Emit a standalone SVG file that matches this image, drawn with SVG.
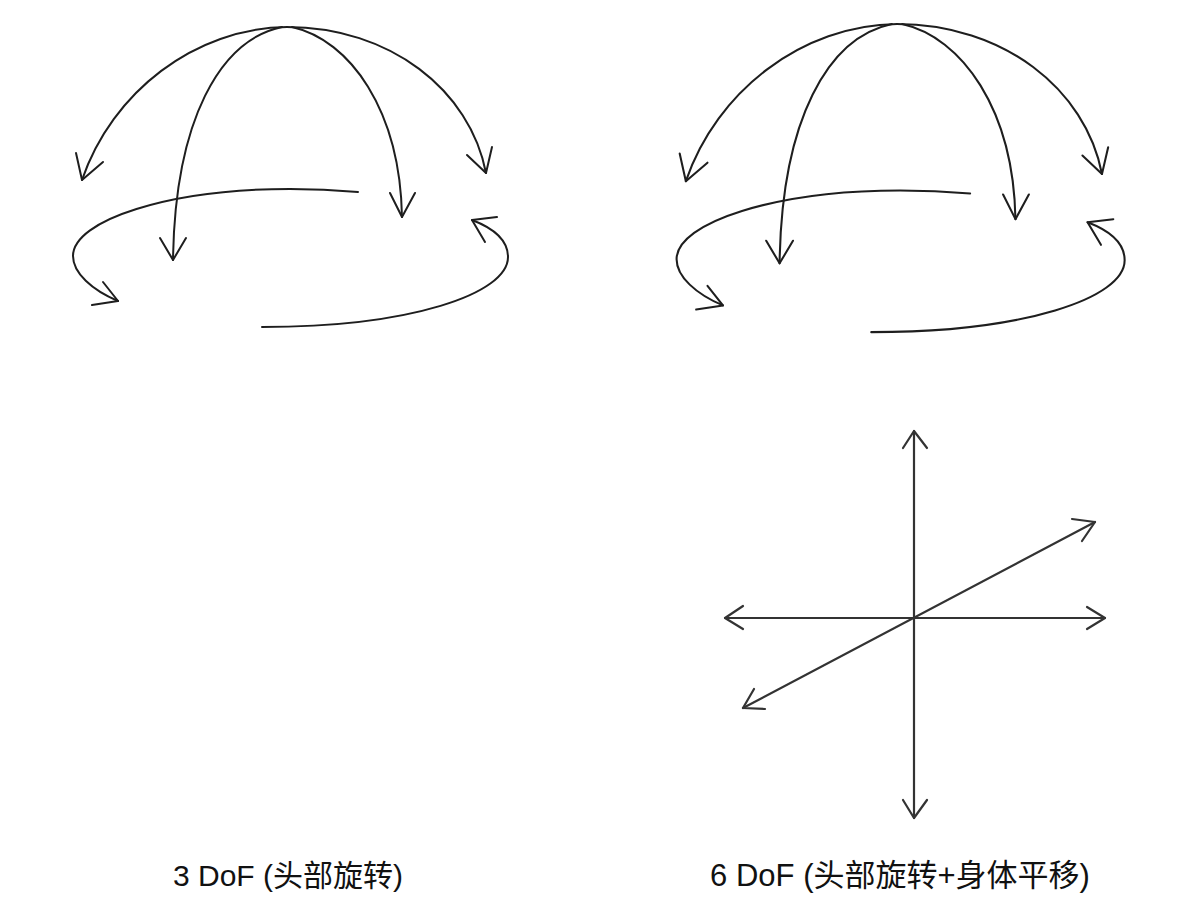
<svg xmlns="http://www.w3.org/2000/svg" width="1192" height="912" viewBox="0 0 1192 912">
<style>
.c{fill:none;stroke:#1e1e1e;stroke-width:2;stroke-linecap:round;stroke-linejoin:round}
.a{fill:none;stroke:#333;stroke-width:2.2;stroke-linecap:round;stroke-linejoin:round}
.t{font-family:"Liberation Sans","Noto Sans CJK SC",sans-serif;font-size:30px;fill:#111;text-anchor:middle}
</style>
<defs>
<g id="rot">
<path class="c" d="M287,27 C195,28 112,92 82,180"/>
<polyline class="c" points="76,153 82,180 103,162"/>
<path class="c" d="M282,27 C220,40 175,120 173,260"/>
<polyline class="c" points="160,238 173,260 186,238"/>
<path class="c" d="M292,27 C350,40 400,110 402,217"/>
<polyline class="c" points="390,193 402,217 415,193"/>
<path class="c" d="M287,27 C390,27 470,90 486,173"/>
<polyline class="c" points="467,155 486,173 492,147"/>
<path class="c" d="M358,192 C335,190 312,189 290,189 C170,189 73,220 73,256 C73,273 92,290 118,301"/>
<polyline class="c" points="103,282 118,301 92,305"/>
<path class="c" d="M262,327 C410,327 508,294 508,257 C508,240 493,228 472,220"/>
<polyline class="c" points="497,217 472,220 485,242"/>
</g>
</defs>
<g id="dof3">
<use href="#rot"/>
</g>
<g id="dof6-rotation">
<use href="#rot" transform="translate(601.4,-3.7) scale(1.03,1.027)"/>
</g>
<g id="dof6-translation">
<line class="a" x1="914" y1="431" x2="914" y2="818"/>
<polyline class="a" points="903,448 914,431 927,448"/>
<polyline class="a" points="903,800 914,818 927,800"/>
<line class="a" x1="725" y1="618" x2="1105" y2="618"/>
<polyline class="a" points="743,606 725,618 743,629"/>
<polyline class="a" points="1087,607 1105,618 1087,629"/>
<line class="a" x1="743" y1="708" x2="1095" y2="522"/>
<polyline class="a" points="1072,519 1095,522 1082,541"/>
<polyline class="a" points="754,689 743,708 765,709"/>
</g>
<g id="labels">
<text class="t" x="288" y="886">3 DoF (头部旋转)</text>
<text class="t" x="900" y="886" style="font-size:31px">6 DoF (头部旋转+身体平移)</text>
</g>
</svg>
